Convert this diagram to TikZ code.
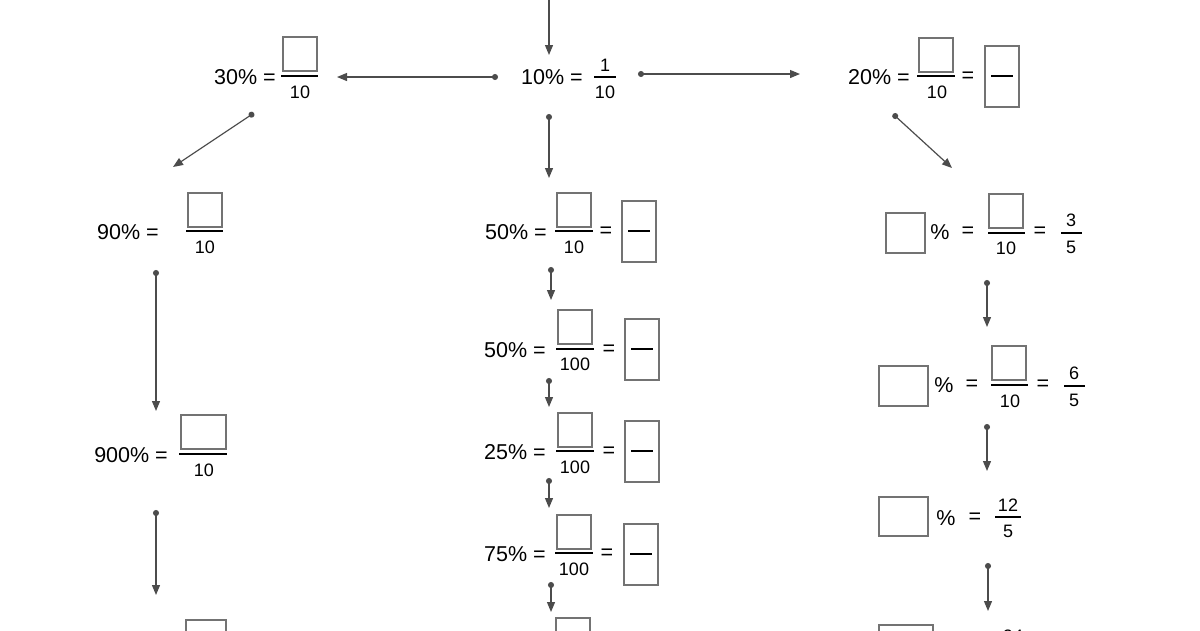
\documentclass[tikz,border=0pt]{standalone}
\usepackage{fontspec}
\setmainfont{Liberation Sans}
\usetikzlibrary{arrows.meta}
\begin{document}
\begin{tikzpicture}[x=1pt,y=-1pt,
  txt/.style={inner sep=0pt,font=\fontsize{21.5}{24}\selectfont},
  den/.style={inner sep=0pt,font=\fontsize{18}{20}\selectfont},
  bx/.style={draw=black!55,line width=2pt,inner sep=0pt,minimum width=34pt,minimum height=34pt},
  tall/.style={draw=black!55,line width=2pt,inner sep=0pt,minimum width=34pt,minimum height=61pt},
  fl/.style={line width=1.5pt,black},
  arr/.style={draw=black!70,line width=1.2pt,{Circle[length=6pt]}-{Triangle[length=10pt,width=8pt]}},
  arrn/.style={draw=black!70,line width=1.2pt,-{Triangle[length=10pt,width=8pt]}}]
\useasboundingbox (0,0) rectangle (1200,630);
\clip (0,0) rectangle (1200,630);
\newcommand\tallbox[3]{\node[tall] (#1) at (#2,#3) {}; \draw[fl] (#2-11,#3) -- (#2+11,#3);}
% row 1
\node[txt,anchor=east] (t10) at (583,77) {10\% =};
\node[den] (n1) at (605,65) {1}; \draw[fl] (594,77)--(616,77); \node[den] (d1) at (605,92) {10};
\node[txt,anchor=east] (t30) at (276,77) {30\% =};
\node[bx] (b30) at (300,54) {}; \draw[fl] (281,76)--(318,76); \node[den] (d30) at (300,92) {10};
\node[txt,anchor=east] (t20) at (910,77) {20\% =};
\node[bx] (b20) at (936,55) {}; \draw[fl] (917,76)--(955,76); \node[den] (d20) at (937,92) {10};
\node[txt] (e20) at (968,77) {=}; \tallbox{tb20}{1002}{76}
% left column
\node[txt,anchor=east] (t90) at (159,232) {90\% =};
\node[bx] (b90) at (205,210) {}; \draw[fl] (186,231)--(223,231); \node[den] (d90) at (205,247) {10};
\node[txt,anchor=east] (t900) at (168,455) {900\% =};
\node[bx,minimum width=45pt] (b900) at (203,432) {}; \draw[fl] (179,454)--(227,454); \node[den] (d900) at (204,470) {10};
\node[bx,minimum width=40pt] (b9000) at (206,637) {};
% centre column
\node[txt,anchor=east] (t50a) at (547,232) {50\% =};
\node[bx] (b50a) at (574,210) {}; \draw[fl] (555,231)--(593,231); \node[den] (d50a) at (574,247) {10};
\node[txt] (e50a) at (606,232) {=}; \tallbox{tb50a}{639}{231}
\node[txt,anchor=east] (t50b) at (546,350) {50\% =};
\node[bx] (b50b) at (575,327) {}; \draw[fl] (556,349)--(594,349); \node[den] (d50b) at (575,364) {100};
\node[txt] (e50b) at (609,350) {=}; \tallbox{tb50b}{642}{349}
\node[txt,anchor=east] (t25) at (546,452) {25\% =};
\node[bx] (b25) at (575,430) {}; \draw[fl] (556,451)--(594,451); \node[den] (d25) at (575,467) {100};
\node[txt] (e25) at (609,452) {=}; \tallbox{tb25}{642}{451}
\node[txt,anchor=east] (t75) at (546,554) {75\% =};
\node[bx] (b75) at (574,532) {}; \draw[fl] (555,553)--(593,553); \node[den] (d75) at (574,569) {100};
\node[txt] (e75) at (607,554) {=}; \tallbox{tb75}{641}{554}
\node[bx] (b100) at (573,635) {};
% right column
\node[bx,minimum width=39pt,minimum height=40pt] (r1) at (905,233) {};
\node[txt] (p1) at (940,232) {\%}; \node[txt] (q1) at (968,232) {=};
\node[bx] (rb1) at (1006,211) {}; \draw[fl] (988,233)--(1025,233); \node[den] (rd1) at (1006,248) {10};
\node[txt] (s1) at (1040,232) {=};
\node[den] (n35) at (1071,220) {3}; \draw[fl] (1061,233)--(1082,233); \node[den] (d35) at (1071,247) {5};
\node[bx,minimum width=49pt,minimum height=40pt] (r2) at (903,386) {};
\node[txt] (p2) at (944,385) {\%}; \node[txt] (q2) at (972,385) {=};
\node[bx] (rb2) at (1009,363) {}; \draw[fl] (991,385)--(1028,385); \node[den] (rd2) at (1010,401) {10};
\node[txt] (s2) at (1043,385) {=};
\node[den] (n65) at (1074,373) {6}; \draw[fl] (1064,386)--(1085,386); \node[den] (d65) at (1074,400) {5};
\node[bx,minimum width=49pt,minimum height=39pt] (r3) at (903,516) {};
\node[txt] (p3) at (946,518) {\%}; \node[txt] (q3) at (975,518) {=};
\node[den] (n125) at (1008,505) {12}; \draw[fl] (995,517)--(1021,517); \node[den] (d125) at (1008,531) {5};
\node[bx,minimum width=54pt,minimum height=39pt] (r4) at (906,644) {};
\node[den] (n245) at (1013,636) {24};
% arrow end points
\coordinate (top) at (549,-2); \coordinate (a0) at (549,55);
\coordinate (a1s) at (498,77); \coordinate (a1e) at (337,77);
\coordinate (a2s) at (638,74); \coordinate (a2e) at (800,74);
\coordinate (a3s) at (549,114); \coordinate (a3e) at (549,178);
\coordinate (a4s) at (254,113); \coordinate (a4e) at (173,167);
\coordinate (a5s) at (893,114); \coordinate (a5e) at (952,168);
\coordinate (a6s) at (156,270); \coordinate (a6e) at (156,411);
\coordinate (a7s) at (156,510); \coordinate (a7e) at (156,595);
\coordinate (c1s) at (551,267); \coordinate (c1e) at (551,300);
\coordinate (c2s) at (549,378); \coordinate (c2e) at (549,407);
\coordinate (c3s) at (549,478); \coordinate (c3e) at (549,508);
\coordinate (c4s) at (551,582); \coordinate (c4e) at (551,612);
\coordinate (r1s) at (987,280); \coordinate (r1e) at (987,327);
\coordinate (r2s) at (987,424); \coordinate (r2e) at (987,471);
\coordinate (r3s) at (988,563); \coordinate (r3e) at (988,611);
\draw[arrn] (top)--(a0);
\foreach \s/\e in {a1s/a1e,a2s/a2e,a3s/a3e,a4s/a4e,a5s/a5e,a6s/a6e,a7s/a7e,c1s/c1e,c2s/c2e,c3s/c3e,c4s/c4e,r1s/r1e,r2s/r2e,r3s/r3e}
  \draw[arr] (\s)--(\e);
\end{tikzpicture}
\end{document}
